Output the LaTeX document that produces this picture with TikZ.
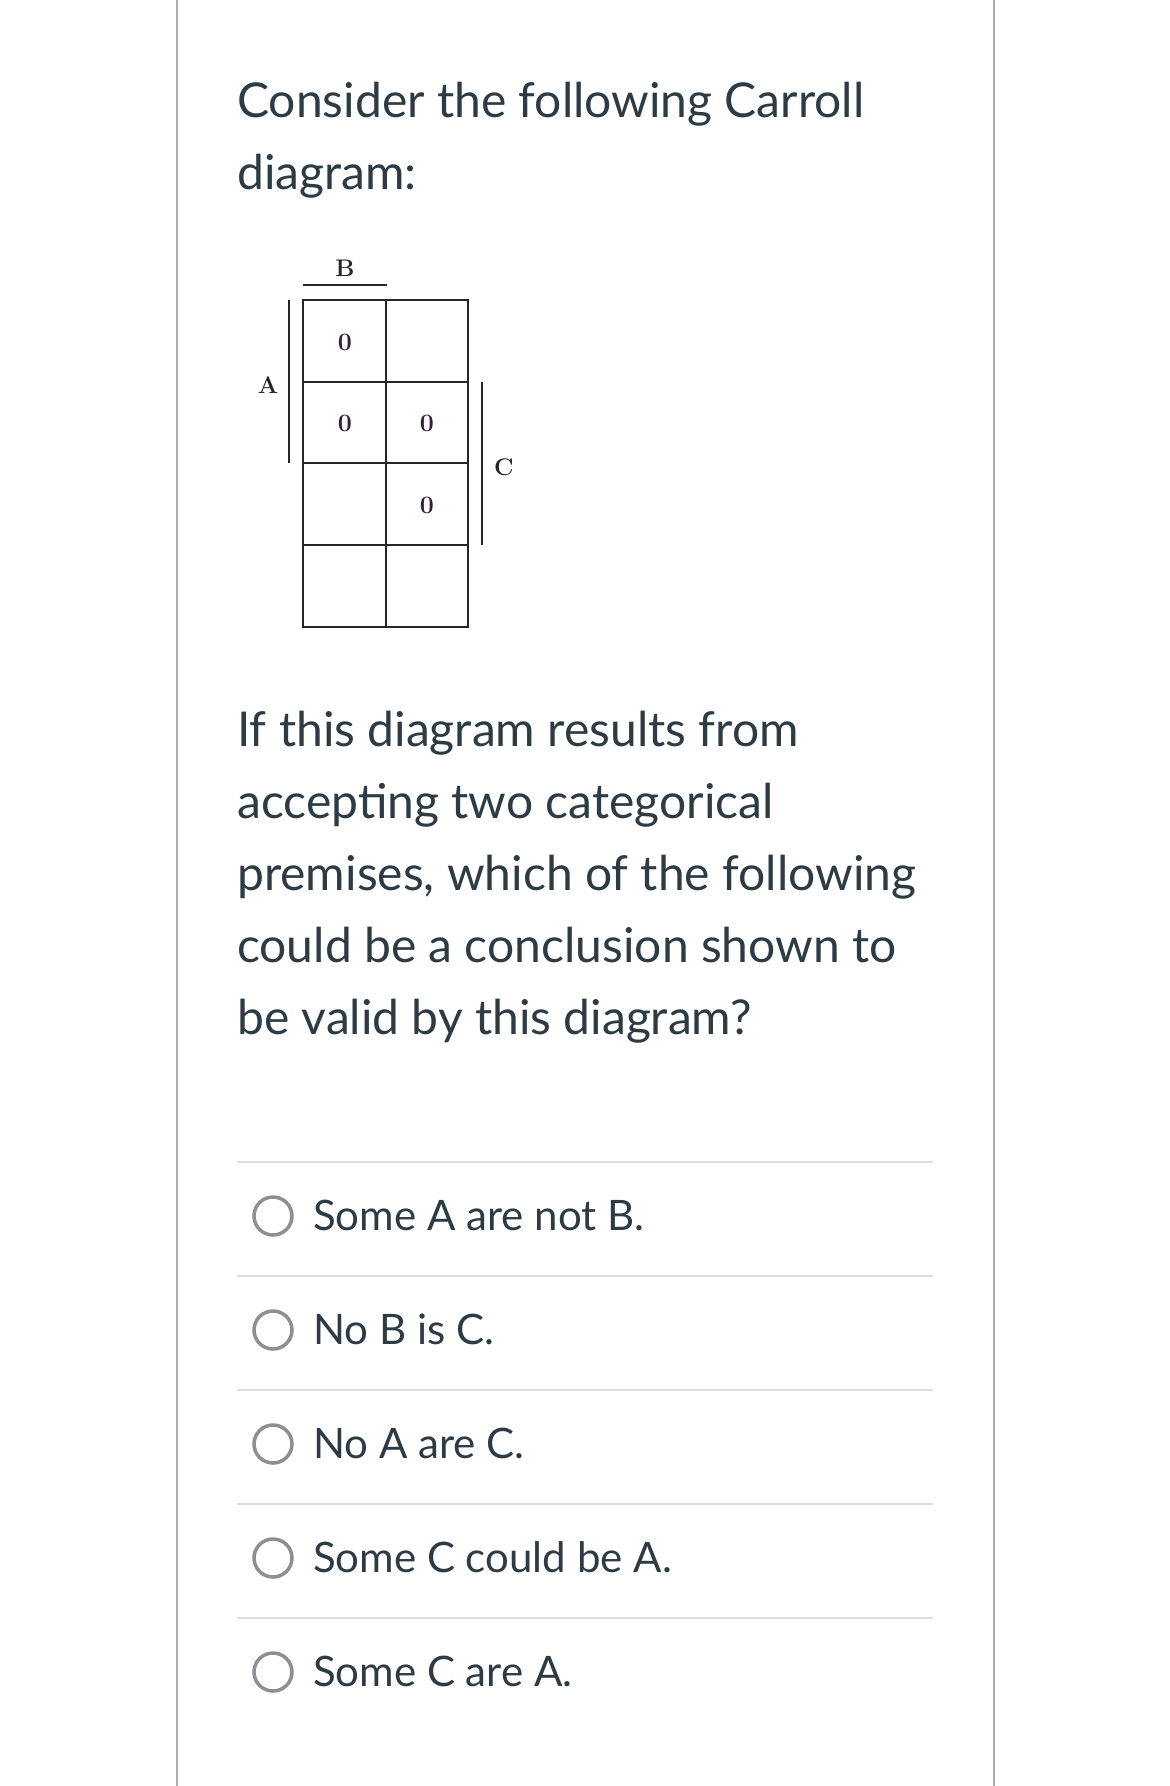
\documentclass[tikz,border=0pt]{standalone}
\usepackage{fontspec}
\newfontfamily\lato{Lato}
\definecolor{txt}{HTML}{2D3B45}
\definecolor{radio}{HTML}{8E8E93}
\definecolor{sep}{HTML}{DDDDDD}
\definecolor{frame}{HTML}{ABABAB}
\definecolor{ink}{HTML}{262626}
\tikzset{
  qtext/.style={anchor=base west, inner sep=0pt, text=txt, font=\lato\fontsize{48}{56}\selectfont},
  otext/.style={anchor=base west, inner sep=0pt, text=txt, font=\lato\fontsize{42}{50}\selectfont},
  radiobtn/.style={circle, draw=radio, line width=3.5pt, minimum size=38pt, inner sep=0pt},
  sepline/.style={draw=sep, line width=2.5pt},
  frameline/.style={draw=frame, line width=2.5pt},
  gridline/.style={draw=ink, line width=2.4pt},
  barline/.style={draw=ink, line width=2.4pt},
  clabel/.style={inner sep=0pt, text=ink, font=\bfseries\fontsize{24}{30}\selectfont},
  zero/.style={inner sep=0pt, text=ink!80!violet, font=\bfseries\fontsize{25}{30}\selectfont},
}
\begin{document}
\begin{tikzpicture}[x=1pt,y=-1pt]
\useasboundingbox[fill=white] (0,0) rectangle (1170,1786);
% frame
\draw[frameline] (177,0) -- (177,1786);
\draw[frameline] (994,0) -- (994,1786);
% heading
\node[qtext] (t1) at (237,117) {Consider the following Carroll};
\node[qtext] (t2) at (237,189) {diagram:};
% Carroll diagram
\draw[gridline] (303,300) rectangle (468,627);
\draw[gridline] (386,300) -- (386,627);
\draw[gridline] (303,382) -- (468,382);
\draw[gridline] (303,463) -- (468,463);
\draw[gridline] (303,545) -- (468,545);
\draw[barline] (303,285) -- (387,285);
\draw[barline] (289,300) -- (289,463);
\draw[barline] (482,382) -- (482,545);
\node[clabel] (lb) at (345,268) {B};
\node[clabel] (la) at (268,385) {A};
\node[clabel] (lc) at (504,467) {C};
\node[zero] (z11) at (345,342) {0};
\node[zero] (z21) at (345,423) {0};
\node[zero] (z22) at (427,423) {0};
\node[zero] (z32) at (427,505) {0};
% question
\node[qtext] (p1) at (237,746) {If this diagram results from};
\node[qtext] (p2) at (237,818) {accepting two categorical};
\node[qtext] (p3) at (237,890) {premises, which of the following};
\node[qtext] (p4) at (237,962) {could be a conclusion shown to};
\node[qtext] (p5) at (237,1034) {be valid by this diagram?};
% options
\foreach \y in {1162,1276,1390,1504,1618}
  \draw[sepline] (237,\y) -- (933,\y);
\node[radiobtn] (r1) at (273,1216) {};
\node[radiobtn] (r2) at (273,1330) {};
\node[radiobtn] (r3) at (273,1444) {};
\node[radiobtn] (r4) at (273,1558) {};
\node[radiobtn] (r5) at (273,1672) {};
\node[otext] (o1) at (313,1230) {Some A are not B.};
\node[otext] (o2) at (313,1344) {No B is C.};
\node[otext] (o3) at (313,1458) {No A are C.};
\node[otext] (o4) at (313,1572) {Some C could be A.};
\node[otext] (o5) at (313,1686) {Some C are A.};
\end{tikzpicture}
\end{document}
